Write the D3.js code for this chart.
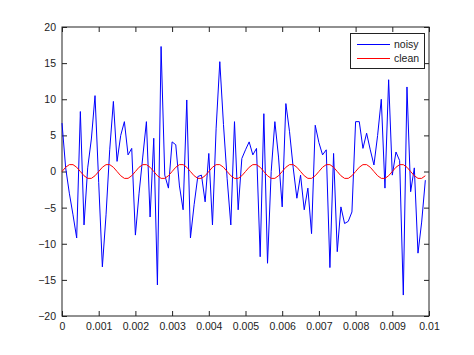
<!DOCTYPE html>
<html><head><meta charset="utf-8">
<script src="https://cdn.jsdelivr.net/npm/d3@7"></script>
<style>body{margin:0;background:#fff;}svg{display:block;}text{font-family:"Liberation Sans",Arial,sans-serif;}</style>
</head><body>
<svg id="c" width="474" height="355"></svg>
<script>
const time = [0,0.0001,0.0002,0.0003,0.0004,0.0005,0.0006,0.0007,0.0008,0.0009,
0.0010,0.0011,0.0012,0.0013,0.0014,0.0015,0.0016,0.0017,0.0018,0.0019,
0.0020,0.0021,0.0022,0.0023,0.0024,0.0025,0.0026,0.0027,0.0028,0.0029,
0.0030,0.0031,0.0032,0.0033,0.0034,0.0035,0.0036,0.0037,0.0038,0.0039,
0.0040,0.0041,0.0042,0.0043,0.0044,0.0045,0.0046,0.0047,0.0048,0.0049,
0.0050,0.0051,0.0052,0.0053,0.0054,0.0055,0.0056,0.0057,0.0058,0.0059,
0.0060,0.0061,0.0062,0.0063,0.0064,0.0065,0.0066,0.0067,0.0068,0.0069,
0.0070,0.0071,0.0072,0.0073,0.0074,0.0075,0.0076,0.0077,0.0078,0.0079,
0.0080,0.0081,0.0082,0.0083,0.0084,0.0085,0.0086,0.0087,0.0088,0.0089,
0.0090,0.0091,0.0092,0.0093,0.0094,0.0095,0.0096,0.0097,0.0098,0.0099];
const noisy = [6.7,0.5,-3,-6,-9.2,8.3,-7.4,0.5,4.5,10.5,
-1.5,-13.2,-6,3,9.7,1.4,5,6.9,2.3,3.2,
-8.8,-3,2,6.9,-6.3,4.6,-15.7,17.3,-0.5,-2.3,
4.1,3.7,-2,-5.3,9.9,-9.2,-4.6,-0.7,-0.5,-4.2,
2.5,-7.4,6,15.2,6.5,-1,-7.4,6.9,-5.3,1.8,
3,4.1,2.3,3.2,-11.8,8,-12.7,0,6.9,2,
-4.9,9.4,5.5,0.5,-3.7,-0.5,-5.3,-2.3,-8.6,6.4,
4,2.3,3,-13.3,2.5,-11.1,-4.9,-7.2,-6.9,-5.6,
6.9,6.9,3.2,5.3,3,0.9,5,10,-2.3,12.7,
-0.5,2.7,1.5,-17.1,11.7,-2.8,0.5,-11.3,-7,-1.2];
const clean = [0,0.588,0.951,0.951,0.588,0,-0.588,-0.951,-0.951,-0.588,
0,0.588,0.951,0.951,0.588,0,-0.588,-0.951,-0.951,-0.588,
0,0.588,0.951,0.951,0.588,0,-0.588,-0.951,-0.951,-0.588,
0,0.588,0.951,0.951,0.588,0,-0.588,-0.951,-0.951,-0.588,
0,0.588,0.951,0.951,0.588,0,-0.588,-0.951,-0.951,-0.588,
0,0.588,0.951,0.951,0.588,0,-0.588,-0.951,-0.951,-0.588,
0,0.588,0.951,0.951,0.588,0,-0.588,-0.951,-0.951,-0.588,
0,0.588,0.951,0.951,0.588,0,-0.588,-0.951,-0.951,-0.588,
0,0.588,0.951,0.951,0.588,0,-0.588,-0.951,-0.951,-0.588,
0,0.588,0.951,0.951,0.588,0,-0.588,-0.951,-0.951,-0.588];
const xTicks = [0,0.001,0.002,0.003,0.004,0.005,0.006,0.007,0.008,0.009,0.01];
const xTickLabels = ["0","0.001","0.002","0.003","0.004","0.005","0.006","0.007","0.008","0.009","0.01"];
const yTicks = [-20,-15,-10,-5,0,5,10,15,20];
const seriesNames = ["noisy","clean"];
const seriesColors = ["#0000ff","#ff0000"];

const L=62, R=429, T=27, B=316;
const svg = d3.select("#c");
const x = d3.scaleLinear().domain([0,0.01]).range([L,R]);
const y = d3.scaleLinear().domain([-20,20]).range([B,T]);

const tickLen = 5;
const axB = svg.append("g").attr("transform",`translate(0,${B})`)
  .call(d3.axisBottom(x).tickValues(xTicks).tickFormat((d,i)=>xTickLabels[i]).tickSizeInner(-tickLen).tickSizeOuter(0).tickPadding(7));
const axT = svg.append("g").attr("transform",`translate(0,${T})`)
  .call(d3.axisTop(x).tickValues(xTicks).tickFormat("").tickSizeInner(-tickLen).tickSizeOuter(0));
const axL = svg.append("g").attr("transform",`translate(${L},0)`)
  .call(d3.axisLeft(y).tickValues(yTicks).tickSizeInner(-tickLen).tickSizeOuter(0).tickPadding(6));
const axR = svg.append("g").attr("transform",`translate(${R},0)`)
  .call(d3.axisRight(y).tickValues(yTicks).tickFormat("").tickSizeInner(-tickLen).tickSizeOuter(0));
[axB,axT,axL,axR].forEach(a=>{
  a.selectAll("path.domain").remove();
  a.selectAll("line").attr("stroke","#222");
  a.selectAll("text").attr("font-size","10.5px").attr("fill","#222");
});

svg.append("rect").attr("x",L).attr("y",T).attr("width",R-L).attr("height",B-T)
  .attr("fill","none").attr("stroke","#222").attr("stroke-width",1);

const line = d3.line().x((d,i)=>x(time[i])).y(d=>y(d));
svg.append("path").datum(noisy).attr("d",line).attr("fill","none").attr("stroke",seriesColors[0]).attr("stroke-width",1);
svg.append("path").datum(clean).attr("d",line).attr("fill","none").attr("stroke",seriesColors[1]).attr("stroke-width",1);

// legend
const lg = svg.append("g");
lg.append("rect").attr("x",350.5).attr("y",33.5).attr("width",74).attr("height",35)
  .attr("fill","#fff").attr("stroke","#222").attr("stroke-width",1);
seriesNames.forEach((n,i)=>{
  const yy = 44.5 + i*14;
  lg.append("line").attr("x1",357).attr("x2",390).attr("y1",yy).attr("y2",yy)
    .attr("stroke",seriesColors[i]).attr("stroke-width",1);
  lg.append("text").attr("x",394).attr("y",yy+3.5).attr("font-size","10.5px").attr("fill","#222").text(n);
});
</script>
</body></html>
